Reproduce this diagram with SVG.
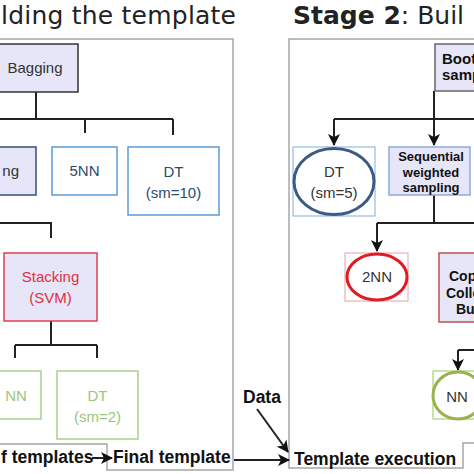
<svg xmlns="http://www.w3.org/2000/svg" width="474" height="474" viewBox="0 0 474 474">
<style>
.panel{fill:none;stroke:#a6a6a6;stroke-width:1.5}
.ln{fill:none;stroke:#222;stroke-width:2}
.lav{fill:#e6e6f8}
.t{font-family:"Liberation Sans",Arial,sans-serif;font-size:15px;fill:#333;text-anchor:middle}
.b{font-family:"Liberation Sans",Arial,sans-serif;font-weight:bold;font-size:13px;fill:#111}
.big{font-family:"Liberation Sans",Arial,sans-serif;font-weight:bold;font-size:17.5px;fill:#111}
.title{font-family:"DejaVu Sans",Verdana,sans-serif;font-size:25px;fill:#222}
</style>
<defs>
<marker id="ah" markerUnits="userSpaceOnUse" markerWidth="12" markerHeight="12" viewBox="0 0 12 12" refX="11" refY="6" orient="auto">
<path d="M0,0 L12,6 L0,12 L3,6 z" fill="#111"/>
</marker>
</defs>
<text class="title" x="1" y="23.5" textLength="235" lengthAdjust="spacing">lding the template</text>
<text class="title" x="293" y="23.5"><tspan font-weight="bold">Stage 2</tspan>: Buil</text>
<path class="panel" d="M-5,39 H233 V470 H107 V444 H-5"/>
<path class="panel" d="M480,39 H289 V468 H463 V443 H480"/>
<g id="connectors">
<path class="ln" d="M36,92 V119 M-5,119 H173 M85,119 V133 M173,119 V135"/>
<path class="ln" d="M-5,223 H51 V238"/>
<path class="ln" d="M51,321 V345 M15,345 H97 M15,345 V358 M97,345 V358"/>
<path class="ln" d="M434,91 V119 M334,119 H480"/>
<path class="ln" d="M334,119 V145" marker-end="url(#ah)"/>
<path class="ln" d="M434,119 V145" marker-end="url(#ah)"/>
<path class="ln" d="M434,195 V223 M377,223 H480"/>
<path class="ln" d="M377,223 V251" marker-end="url(#ah)"/>
<path class="ln" d="M458,350 H480"/>
<path class="ln" d="M458,350 V370" marker-end="url(#ah)"/>
<path class="ln" d="M92,458 H112" stroke-width="1.5" marker-end="url(#ah)"/>
<path class="ln" d="M234,460 H289" stroke-width="1.5" marker-end="url(#ah)"/>
<path class="ln" d="M257,409 L288,452" stroke-width="1.5" marker-end="url(#ah)"/>
</g>
<g id="bagging">
<rect class="lav" x="-8" y="44" width="86" height="48" stroke="#333" stroke-width="1.5"/>
<text class="t" x="35" y="73">Bagging</text>
</g>
<g id="boosting">
<rect class="lav" x="-10" y="147" width="46" height="48" stroke="#2f4f7f" stroke-width="1.5"/>
<text class="t" x="19" y="176" style="text-anchor:end">ng</text>
</g>
<g id="nn5">
<rect x="52" y="147" width="65" height="48" fill="#fff" stroke="#5b9bd5" stroke-width="1.5"/>
<text class="t" x="84.5" y="176" style="fill:#2e4a6e">5NN</text>
</g>
<g id="dt10">
<rect x="128" y="147" width="91" height="68" fill="#fff" stroke="#5b9bd5" stroke-width="1.5"/>
<text class="t" x="173.5" y="177" style="fill:#2e4a6e">DT</text>
<text class="t" x="173.5" y="198" style="fill:#2e4a6e">(sm=10)</text>
</g>
<g id="stacking">
<rect class="lav" x="4" y="253" width="93" height="68" stroke="#e0404f" stroke-width="1.5"/>
<text class="t" x="50.5" y="282" style="fill:#e0303f">Stacking</text>
<text class="t" x="50.5" y="303" style="fill:#e0303f">(SVM)</text>
</g>
<g id="nn-green">
<rect x="-10" y="371" width="51" height="48" fill="#fff" stroke="#a9d18e" stroke-width="1.5"/>
<text class="t" x="16" y="401" style="fill:#9cc47a">NN</text>
</g>
<g id="dt2">
<rect x="57" y="371" width="81" height="68" fill="#fff" stroke="#a9d18e" stroke-width="1.5"/>
<text class="t" x="97.5" y="401" style="fill:#9cc47a">DT</text>
<text class="t" x="97.5" y="422" style="fill:#9cc47a">(sm=2)</text>
</g>
<g id="set-templates">
<text class="big" x="1" y="463">f templates</text>
</g>
<g id="final-template">
<text class="big" x="113" y="463">Final template</text>
</g>
<g id="data">
<text class="big" x="243" y="403">Data</text>
</g>
<g id="template-execution">
<text class="big" x="294" y="465">Template execution</text>
</g>
<g id="bootstrap">
<rect class="lav" x="435" y="44" width="50" height="47" stroke="#666" stroke-width="1.5"/>
<text class="b" x="442" y="64" style="font-size:15px">Boot</text>
<text class="b" x="442" y="80" style="font-size:15px">samp</text>
</g>
<g id="dt5">
<rect x="293" y="147" width="82" height="69" fill="#fff" stroke="#7fb0dd" stroke-width="1"/>
<ellipse cx="334" cy="181.5" rx="40" ry="33" fill="#fff" stroke="#3b5a85" stroke-width="3"/>
<text class="t" x="334" y="177">DT</text>
<text class="t" x="334" y="198">(sm=5)</text>
</g>
<g id="sequential">
<rect class="lav" x="389" y="147" width="81" height="48" stroke="#8eaadb" stroke-width="1.5"/>
<text class="b" x="431" y="161" text-anchor="middle">Sequential</text>
<text class="b" x="431" y="177" text-anchor="middle">weighted</text>
<text class="b" x="431" y="192" text-anchor="middle">sampling</text>
</g>
<g id="nn2">
<rect x="345" y="253" width="63" height="48" fill="#fff" stroke="#e8a0a8" stroke-width="1"/>
<ellipse cx="377" cy="277" rx="30" ry="23" fill="#fff" stroke="#e01b24" stroke-width="3"/>
<text class="t" x="377" y="282">2NN</text>
</g>
<g id="cope">
<rect class="lav" x="439" y="253" width="50" height="69" stroke="#c0504d" stroke-width="1.5"/>
<text class="b" x="449" y="281" style="font-size:14px">Cope</text>
<text class="b" x="446" y="298" style="font-size:14px">Colle</text>
<text class="b" x="456" y="314" style="font-size:14px">Bu</text>
</g>
<g id="nn-circle">
<rect x="433" y="371" width="50" height="48" fill="#fff" stroke="#92d050" stroke-width="1"/>
<ellipse cx="458" cy="395.5" rx="25" ry="23.5" fill="#fff" stroke="#9bb04f" stroke-width="3"/>
<text class="t" x="457" y="402">NN</text>
</g>
</svg>
